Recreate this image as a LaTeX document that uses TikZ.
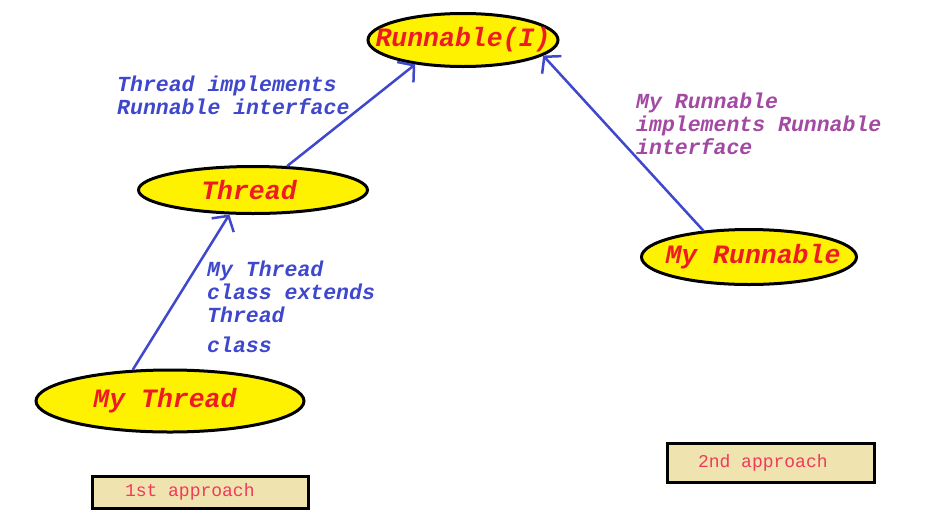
\documentclass[tikz,border=0pt]{standalone}
\usepackage{fontspec}
\setmonofont{Liberation Mono}
\usetikzlibrary{shapes.geometric,arrows.meta}
\definecolor{pblue}{HTML}{3F48CC}
\definecolor{ppurple}{HTML}{A349A4}
\definecolor{pred}{HTML}{ED1C24}
\definecolor{pboxred}{HTML}{F03A5C}
\definecolor{pyellow}{HTML}{FFF200}
\definecolor{ptan}{HTML}{EFE4B0}
\tikzset{
  cls/.style={ellipse, draw=black, line width=3pt, fill=pyellow, inner sep=0pt,
    text=pred, font=\ttfamily\bfseries\itshape\fontsize{26.5}{28}\selectfont},
  lbl/.style={anchor=north west, inner sep=0pt, align=left,
    font=\ttfamily\bfseries\itshape\fontsize{21.5}{23}\selectfont},
  apbox/.style={draw=black, line width=3pt, fill=ptan, inner xsep=0pt, inner ysep=0pt,
    text=pboxred, font=\ttfamily\fontsize{18}{20}\selectfont, anchor=north west},
  inh/.style={draw=pblue, line width=2.5pt, -{Straight Barb[length=11pt,width=26pt,line width=2.5pt]}}
}
\begin{document}
\begin{tikzpicture}[x=1pt,y=-1pt]
\useasboundingbox (0,0) rectangle (929,528);
\fill[white] (0,0) rectangle (929,528);
\node[cls, minimum width=190pt, minimum height=53pt] (run) at (463,40) {\makebox[0pt]{Runnable(I)}};
\node[cls, minimum width=229pt, minimum height=47pt] (thr) at (253,190) {\makebox[0pt]{\hspace*{-8pt}Thread}};
\node[cls, minimum width=268pt, minimum height=62pt] (mythr) at (170,401) {\makebox[0pt]{\hspace*{-10pt}My Thread}};
\node[cls, minimum width=215pt, minimum height=55pt] (myrun) at (749,257) {\makebox[0pt]{\hspace*{8pt}My Runnable}};
\node[lbl, text=pblue] (l1) at (117,76) {Thread implements\\Runnable interface};
\node[lbl, text=ppurple] (l2) at (636,93) {My Runnable\\implements Runnable\\interface};
\node[lbl, text=pblue] (l3) at (207,261) {My Thread\\class extends\\Thread\\[7pt]class};
\node[apbox, minimum height=32pt] (b1) at (90.5,474.5) {\makebox[216pt][l]{\hspace*{33pt}1st\hspace{10.8pt}approach}};
\node[apbox, minimum height=39pt] (b2) at (665.5,441.5) {\makebox[207pt][l]{\hspace*{31pt}2nd\hspace{10.8pt}approach}};
\draw[inh] (thr.35) -- (run.207);
\draw[inh] (mythr.140) -- (thr.226);
\draw[inh] (myrun.150) -- (run.349);
\end{tikzpicture}
\end{document}
